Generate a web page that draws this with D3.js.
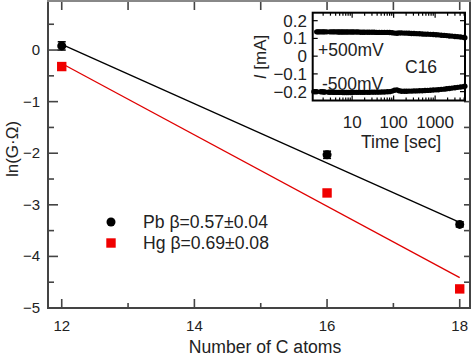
<!DOCTYPE html>
<html><head><meta charset="utf-8">
<script src="https://cdn.jsdelivr.net/npm/d3@7"></script>
<style>body{margin:0;background:#fff}svg{display:block;font-family:"Liberation Sans",Arial,sans-serif}</style>
</head><body><svg id="c" width="474" height="357"></svg>
<script>
// ---- data ----
const carbons = [12, 16, 18];
const pbValues = [0.08, -2.03, -3.38];
const pbErrors = [0.08, 0.07, 0.05];
const hgValues = [-0.32, -2.77, -4.63];
const pbFit = [[12, 0.11], [18, -3.34]];
const hgFit = [[12, -0.26], [18, -4.41]];
const xTicks = [12, 14, 16, 18];
const yTicks = [0, -1, -2, -3, -4, -5];
const legendLabels = ["Pb β=0.57±0.04", "Hg β=0.69±0.08"];
// inset: I(t) at +500mV and -500mV
const insetTime = [1.2,1.3,1.4,1.5,1.6,1.75,1.9,2.05,2.2,2.45,2.7,2.9,3.2,3.5,3.8,4.2,4.6,5,5.5,6,6.6,7.3,8,9,10,11,12.5,14,16,18,20,23,26,30,34,39,45,52,60,70,80,92,105,120,135,155,180,205,235,270,310,360,420,490,570,660,770,900,1050,1200,1400,1650,1900,2200,2550,3000,3500,4100,4800,5200];
const insetPos = [null,null,0.137,0.137,0.137,0.137,0.137,0.137,0.137,0.137,null,0.137,0.137,0.137,0.137,0.137,0.136,0.136,0.136,0.136,0.136,0.136,0.136,0.136,0.136,0.136,0.136,0.136,0.135,0.135,0.135,0.135,0.135,0.135,0.135,0.134,0.134,0.134,0.134,0.134,0.133,0.132,0.130,0.129,0.131,0.131,0.130,0.130,0.129,0.128,0.128,0.127,0.126,0.125,0.124,0.124,0.123,0.122,0.121,0.120,0.118,0.117,0.116,0.114,0.113,0.111,0.110,0.108,0.106,0.104];
const insetNeg = [-0.200,-0.200,-0.200,null,null,-0.201,-0.201,-0.202,-0.202,null,-0.203,-0.203,-0.203,-0.204,-0.204,-0.204,-0.204,-0.204,-0.204,-0.205,-0.205,-0.205,-0.205,-0.205,-0.204,-0.204,-0.204,-0.204,-0.204,-0.204,-0.204,-0.204,-0.204,-0.203,-0.203,-0.203,-0.203,-0.202,-0.202,-0.201,-0.200,-0.197,-0.192,-0.190,-0.195,-0.198,-0.198,-0.198,-0.197,-0.197,-0.196,-0.196,-0.195,-0.195,-0.194,-0.193,-0.192,-0.191,-0.190,-0.189,-0.187,-0.186,-0.184,-0.182,-0.180,-0.178,-0.176,-0.174,-0.172,-0.170];
const insetYTicks = [0.2, 0.1, 0, -0.1, -0.2];
const insetXTicks = [10, 100, 1000];

// ---- chart ----
const svg = d3.select("#c");
const axisCol = "#444";
const txtCol = "#222";
const fmt = v => v < 0 ? "\u2212" + Math.abs(v) : String(v);

const x = d3.scaleLinear().domain([11.793, 18.155]).range([48, 470]);
const y = d3.scaleLinear().domain([-5, 0.97]).range([308, 0]);

// ticks
const tk = svg.append("g").attr("stroke", axisCol).attr("stroke-width", 1.6);
d3.range(12, 18.01, 1).forEach(v => {
  const maj = v % 2 === 0;
  tk.append("line").attr("x1", x(v)).attr("x2", x(v)).attr("y1", y.range()[0]).attr("y2", y.range()[0] - (maj ? 9 : 5));
  tk.append("line").attr("x1", x(v)).attr("x2", x(v)).attr("y1", 0).attr("y2", 10);
});
d3.range(-5, 0.51, 0.5).forEach(v => {
  const maj = Math.abs(v - Math.round(v)) < 1e-6;
  tk.append("line").attr("x1", x.range()[0]).attr("x2", x.range()[0] + (maj ? 10 : 6)).attr("y1", y(v)).attr("y2", y(v));
  tk.append("line").attr("x1", x.range()[1]).attr("x2", x.range()[1] - 6).attr("y1", y(v)).attr("y2", y(v));
});

// frame
svg.append("line").attr("x1", 48).attr("x2", 48).attr("y1", 0).attr("y2", 309).attr("stroke", axisCol).attr("stroke-width", 2);
svg.append("line").attr("x1", 47).attr("x2", 471).attr("y1", 308).attr("y2", 308).attr("stroke", axisCol).attr("stroke-width", 2);
svg.append("line").attr("x1", 470).attr("x2", 470).attr("y1", 0).attr("y2", 309).attr("stroke", axisCol).attr("stroke-width", 2);
svg.append("line").attr("x1", 47).attr("x2", 471).attr("y1", 1).attr("y2", 1).attr("stroke", "#888").attr("stroke-width", 2);

// tick labels
svg.append("g").selectAll("text").data(xTicks).join("text")
  .attr("x", d => x(d)).attr("y", 331).attr("text-anchor", "middle")
  .attr("font-size", 15).attr("fill", txtCol).text(d => d);
svg.append("g").selectAll("text").data(yTicks).join("text")
  .attr("x", 40).attr("y", d => y(d) + 5).attr("text-anchor", "end")
  .attr("font-size", 15).attr("fill", txtCol).text(fmt);

// axis titles
svg.append("text").attr("x", 265).attr("y", 353).attr("text-anchor", "middle")
  .attr("font-size", 17.6).attr("fill", txtCol).text("Number of C atoms");
svg.append("text").attr("transform", "translate(18,149) rotate(-90)").attr("text-anchor", "middle")
  .attr("font-size", 17).attr("fill", txtCol).text("ln(G·Ω)");

// fit lines
const line = d3.line().x(d => x(d[0])).y(d => y(d[1]));
svg.append("path").attr("d", line(pbFit)).attr("stroke", "#000").attr("stroke-width", 1.3).attr("fill", "none");
svg.append("path").attr("d", line(hgFit)).attr("stroke", "#e00000").attr("stroke-width", 1.3).attr("fill", "none");

// error bars (Pb)
const eb = svg.append("g").attr("stroke", "#000").attr("stroke-width", 1.5);
carbons.forEach((c, i) => {
  const v = pbValues[i], e = pbErrors[i];
  eb.append("line").attr("x1", x(c)).attr("x2", x(c)).attr("y1", y(v + e)).attr("y2", y(v - e));
  eb.append("line").attr("x1", x(c) - 4).attr("x2", x(c) + 4).attr("y1", y(v + e)).attr("y2", y(v + e));
  eb.append("line").attr("x1", x(c) - 4).attr("x2", x(c) + 4).attr("y1", y(v - e)).attr("y2", y(v - e));
});

// markers
svg.append("g").selectAll("circle").data(carbons).join("circle")
  .attr("cx", d => x(d)).attr("cy", (d, i) => y(pbValues[i])).attr("r", 4.5).attr("fill", "#000");
svg.append("g").selectAll("rect").data(carbons).join("rect")
  .attr("x", d => x(d) - 4.7).attr("y", (d, i) => y(hgValues[i]) - 4.7).attr("width", 9.4).attr("height", 9.4).attr("fill", "#f00000");

// legend
svg.append("circle").attr("cx", 111).attr("cy", 222).attr("r", 4.5).attr("fill", "#000");
svg.append("rect").attr("x", 106.3).attr("y", 238.3).attr("width", 9.4).attr("height", 9.4).attr("fill", "#f00000");
svg.append("text").attr("x", 143).attr("y", 228).attr("font-size", 17.6).attr("fill", txtCol).text(legendLabels[0]);
svg.append("text").attr("x", 143).attr("y", 249).attr("font-size", 17.6).attr("fill", txtCol).text(legendLabels[1]);

// ---- inset ----
const ix = d3.scaleLog().domain([1.12, 5250]).range([312.7, 465]);
const iy = d3.scaleLinear().domain([-0.25, 0.245]).range([100.5, 12.7]);
svg.append("rect").attr("x", 312.7).attr("y", 12.7).attr("width", 465 - 312.7).attr("height", 100.5 - 12.7).attr("fill", "#fff");

const itk = svg.append("g").attr("stroke", "#000").attr("stroke-width", 1.2);
[1, 10, 100, 1000].forEach(dec => {
  for (let m = 1; m <= 9; m++) {
    const t = dec * m;
    if (t < 1.12 || t > 5250) continue;
    const L = m === 1 ? 5 : 3;
    itk.append("line").attr("x1", ix(t)).attr("x2", ix(t)).attr("y1", 100.5).attr("y2", 100.5 - L);
    itk.append("line").attr("x1", ix(t)).attr("x2", ix(t)).attr("y1", 12.7).attr("y2", 12.7 + L);
  }
});
insetYTicks.forEach(v => {
  itk.append("line").attr("x1", 312.7).attr("x2", 317.7).attr("y1", iy(v)).attr("y2", iy(v));
  itk.append("line").attr("x1", 465).attr("x2", 460).attr("y1", iy(v)).attr("y2", iy(v));
});

const drawBand = vals => {
  svg.append("g").selectAll("circle")
    .data(insetTime.map((t, i) => [t, vals[i]]).filter(d => d[1] !== null))
    .join("circle").attr("cx", d => ix(d[0])).attr("cy", d => iy(d[1])).attr("r", 2.7).attr("fill", "#000");
};
drawBand(insetPos);
drawBand(insetNeg);

svg.append("rect").attr("x", 312.7).attr("y", 12.7).attr("width", 465 - 312.7).attr("height", 100.5 - 12.7)
  .attr("fill", "none").attr("stroke", "#000").attr("stroke-width", 2);

svg.append("g").selectAll("text").data(insetYTicks).join("text")
  .attr("x", 307).attr("y", d => iy(d) + 6).attr("text-anchor", "end")
  .attr("font-size", 17).attr("fill", txtCol).text(d => fmt(d));
svg.append("g").selectAll("text").data(insetXTicks).join("text")
  .attr("x", d => ix(d)).attr("y", 128).attr("text-anchor", "middle")
  .attr("font-size", 17).attr("fill", txtCol).text(d => d);
svg.append("text").attr("x", 401).attr("y", 148).attr("text-anchor", "middle")
  .attr("font-size", 17.5).attr("fill", txtCol).text("Time [sec]");
const il = svg.append("text").attr("transform", "translate(266,57) rotate(-90)").attr("text-anchor", "middle")
  .attr("font-size", 17).attr("fill", txtCol);
il.append("tspan").attr("font-style", "italic").text("I");
il.append("tspan").text(" [mA]");

svg.append("text").attr("x", 318).attr("y", 56).attr("font-size", 17.5).attr("fill", txtCol).text("+500mV");
svg.append("text").attr("x", 322).attr("y", 90).attr("font-size", 17.5).attr("fill", txtCol).text("-500mV");
svg.append("text").attr("x", 405).attr("y", 73).attr("font-size", 17.5).attr("fill", txtCol).text("C16");
</script></body></html>
